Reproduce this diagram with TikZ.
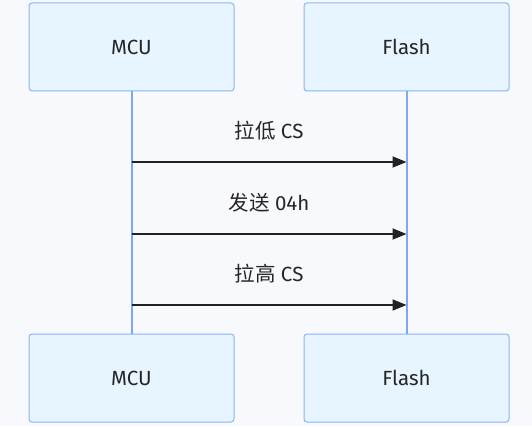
\documentclass[tikz,border=0pt]{standalone}
\usepackage{fontspec}
\setmainfont{Fira Sans}
\newfontfamily\cjk{Noto Sans CJK SC}
\usetikzlibrary{positioning,arrows.meta}
\definecolor{hgrund}{RGB}{248,249,252}
\definecolor{boxfill}{RGB}{230,245,255}
\definecolor{boxrand}{RGB}{138,180,248}
\definecolor{linie}{RGB}{124,168,245}
\definecolor{pfeilfarbe}{RGB}{34,34,34}
\tikzset{
  schrift/.style={font=\fontsize{20.5}{24}\selectfont,text=black!85},
  teilnehmer/.style={draw=boxrand,fill=boxfill,line width=1pt,rounded corners=3pt,
    minimum width=205pt,minimum height=88pt,inner sep=0pt,schrift
  },
  lebenslinie/.style={draw=linie,line width=2pt},
  nachricht/.style={draw=pfeilfarbe,line width=1.8pt,-{Triangle[length=14pt,width=11pt]}}
}
\begin{document}
\begin{tikzpicture}[x=1pt,y=1pt,
  % Abstand zwischen den Kaesten: vertikal und horizontal
  node distance=242pt and 69pt
]
\fill[hgrund] (0,0) rectangle (532,426);
\useasboundingbox (0,0) rectangle (532,426);
% Teilnehmer oben und unten
  \node[teilnehmer] (mcu) at (131.5,379) {MCU};
  \node[teilnehmer,right=of mcu] (flash) {Flash};
  \node[teilnehmer,below=of mcu] (mcuU) {MCU};
  \node[teilnehmer,below=of flash] (flashU) {Flash};
% Lebenslinien
  \draw[lebenslinie] (mcu) -- (mcuU);
  \draw[lebenslinie] (flash) -- (flashU);
% Nachrichten
  \foreach \i/\y/\txt in {1/264/{{\cjk 拉低} CS},2/192/{{\cjk 发送} 04h},3/121/{{\cjk 拉高} CS}}{
    \coordinate (m\i) at (mcu.south |- 0,\y);
    \coordinate (f\i) at (flash.south |- 0,\y);
    \draw[nachricht] (m\i) -- node[midway,yshift=31pt,schrift]{\txt} (f\i);
  }
\end{tikzpicture}
\end{document}
